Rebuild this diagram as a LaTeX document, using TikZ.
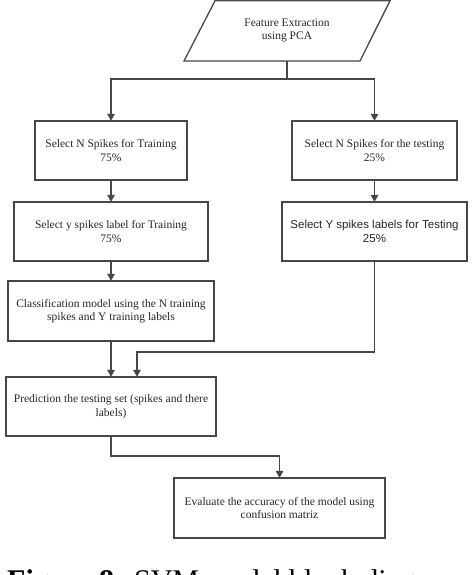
\documentclass[tikz,border=0pt]{standalone}
\usepackage{fontspec}
\setmainfont{Liberation Serif}
\newfontfamily\arialfont{Liberation Sans}
\usetikzlibrary{arrows.meta}
\begin{document}
\begin{tikzpicture}[x=1pt,y=-1pt,
  ln/.style={draw=black!72, line width=1.3pt},
  arr/.style={ln, -{Triangle[width=7.5pt,length=7pt]}, shorten >=-0.5pt},
  box/.style={ln, rectangle, align=center, text=black!85, inner sep=0pt,
    font=\fontsize{11.5}{13.5}\selectfont}]
\useasboundingbox (0,0) rectangle (474,575);
\begin{scope}
\clip (0,0) rectangle (474,575);
% parallelogram
\draw[ln] (184,61) -- (215,0.8) -- (390,0.8) -- (360,61) -- cycle;
\draw[draw=black!72, line width=2pt] (215,0.5) -- (390,0.5);
\node[box, draw=none] (fe) at (287,30.5) {Feature Extraction\\using PCA};
\coordinate (feb) at (287,61);
\coordinate (split) at (287,79);

\node[box, minimum width=152pt, minimum height=59pt] (b1) at (111,150.5)
  {Select N Spikes for Training\\75\%};
\node[box, minimum width=165pt, minimum height=59pt] (b2) at (374.5,150.5)
  {Select N Spikes for the testing\\25\%};
\node[box, minimum width=194pt, minimum height=59pt] (b3) at (111,231.5)
  {Select y spikes label for Training\\75\%};
\node[box, minimum width=185pt, minimum height=59pt, font=\arialfont\fontsize{11.5}{13.5}\selectfont] (b4) at (374.5,231.5)
  {Select Y spikes labels for Testing\\25\%};
\node[box, minimum width=206pt, minimum height=60pt] (b5) at (111,311)
  {Classification model using the N training\\spikes and Y training labels};
\node[box, minimum width=210pt, minimum height=59pt] (b6) at (111,406.5)
  {Prediction the testing set (spikes and there\\labels)};
\node[box, minimum width=211pt, minimum height=60pt] (b7) at (279.5,508)
  {Evaluate the accuracy of the model using\\confusion matriz};

\coordinate (j) at (137,352);
\coordinate (k) at (111,456);

\draw[ln] (feb) -- (split);
\draw[arr] (split) -| (b1.north);
\draw[arr] (split) -| (b2.north);
\draw[arr] (b1.south) -- (b3.north);
\draw[arr] (b2.south) -- (b4.north);
\draw[arr] (b3.south) -- (b5.north);
\draw[arr] (b5.south) -- (b6.north);
\draw[arr] (b4.south) |- (j) -- (j |- b6.north);
\draw[arr] (b6.south) -- (k) -| (b7.north);

\node[anchor=base west, inner sep=0pt, font=\fontsize{30}{30}\selectfont] (cap) at (7,590)
  {\textbf{Figure 8:} SVM model block diagram};
\end{scope}
\end{tikzpicture}
\end{document}
